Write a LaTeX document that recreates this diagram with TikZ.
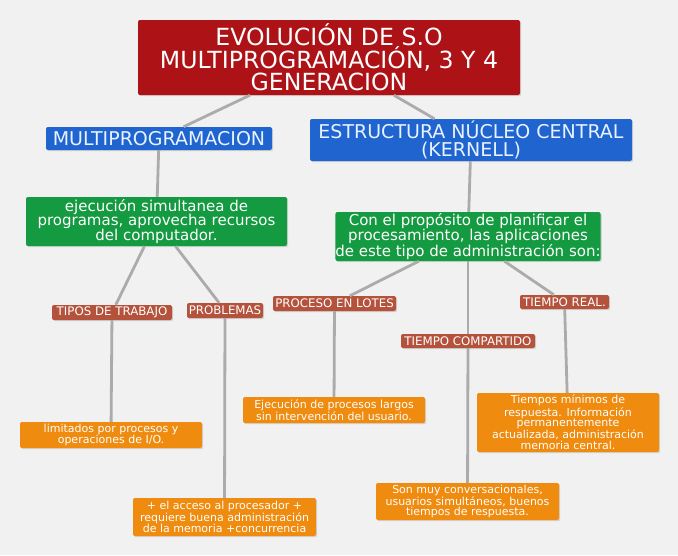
\documentclass[tikz,border=0pt]{standalone}
\usepackage{fontspec}
\setmainfont{DejaVu Sans}
\usetikzlibrary{shadows}
\definecolor{fondo}{HTML}{F1F1F1}
\definecolor{rojo}{HTML}{AD1217}
\definecolor{azul}{HTML}{1F64CF}
\definecolor{verde}{HTML}{149A40}
\definecolor{ladrillo}{HTML}{B4523C}
\definecolor{naranja}{HTML}{EF8B0E}
\definecolor{linea}{HTML}{ABABAB}
\definecolor{celeste}{HTML}{E8F3FF}

\begin{document}
\begin{tikzpicture}[x=1pt,y=-1pt,
sombra/.style={drop shadow={opacity=0.25, shadow xshift=1.2pt, shadow yshift=-1.2pt}},
titulo/.style={rectangle, fill=rojo, text=white, align=center, rounded corners=2pt, inner sep=0pt, sombra, font=\fontsize{23.6}{22.5}\selectfont},
tema/.style={rectangle, fill=azul, text=celeste, align=center, rounded corners=2pt, inner sep=0pt, sombra, font=\fontsize{19}{18.3}\selectfont},
idea/.style={rectangle, fill=verde, text=white, align=center, rounded corners=2pt, inner sep=0pt, sombra, font=\fontsize{15}{14.7}\selectfont},
tipo/.style={rectangle, fill=ladrillo, text=white, align=center, rounded corners=2pt, inner sep=0pt, sombra, font=\fontsize{11.8}{12}\selectfont},
detalle/.style={rectangle, fill=naranja, text=white, align=center, rounded corners=2pt, inner sep=0pt, sombra, font=\fontsize{11}{10.8}\selectfont},
rama/.style={draw=linea, line width=2.8pt}]

\fill[fondo] (0,0) rectangle (678,555);
\useasboundingbox (0,0) rectangle (678,555);

\draw (329,57.5) node[titulo, minimum width=382, minimum height=75] (Tit) {EVOLUCIÓN DE S.O\\MULTIPROGRAMACIÓN, 3 Y 4\\GENERACION};
\draw (159,138.5) node[tema, minimum width=226, minimum height=23] (Mul) {MULTIPROGRAMACION};
\draw (471,140) node[tema, minimum width=322, minimum height=42] (Ker) {ESTRUCTURA NÚCLEO CENTRAL\\(KERNELL)};
\draw (156.5,221.5) node[idea, minimum width=261, minimum height=49] (Eje) {ejecución simultanea de\\programas, aprovecha recursos\\del computador.};
\draw (468,236.5) node[idea, minimum width=262, minimum height=49] (Pla) {Con el propósito de planificar el\\procesamiento, las aplicaciones\\de este tipo de administración son:};
\draw (112,312.5) node[tipo, minimum width=120, minimum height=15] (TTr) {TIPOS DE TRABAJO};
\draw (225,310.5) node[tipo, minimum width=76, minimum height=15] (Pro) {PROBLEMAS};
\draw (334.5,303.5) node[tipo, minimum width=123, minimum height=15] (Lot) {PROCESO EN LOTES};
\draw (468,341) node[tipo, minimum width=134, minimum height=14] (TCo) {TIEMPO COMPARTIDO};
\draw (564.5,302) node[tipo, minimum width=89, minimum height=14] (TRe) {TIEMPO REAL.};
\draw (111,435) node[detalle, minimum width=182, minimum height=26] (Lim) {limitados por procesos y\\operaciones de I/O.};
\draw (224.5,517) node[detalle, minimum width=183, minimum height=38] (Acc) {+ el acceso al procesador +\\requiere buena administración\\de la memoria +concurrencia};
\draw (334,410) node[detalle, minimum width=182, minimum height=26] (Lar) {Ejecución de procesos largos\\sin intervención del usuario.};
\draw (568,422.5) node[detalle, minimum width=182, minimum height=59] (Min) {Tiempos mínimos de\\respuesta. Información\\permanentemente\\actualizada, administración\\memoria central.};
\draw (467.5,501.5) node[detalle, minimum width=183, minimum height=37] (Con) {Son muy conversacionales,\\usuarios simultáneos, buenos\\tiempos de respuesta.};

\draw[rama] (Tit)--(Mul);
\draw[rama] (Tit)--(Ker);
\draw[rama] (Mul)--(Eje);
\draw[rama] (Ker)--(Pla);

\draw[rama] (Eje)--(TTr);
\draw[rama] (Eje)--(Pro);
\draw[rama] (TTr)--(Lim);
\draw[rama] (Pro)--(Acc);

\draw[rama] (Pla)--(Lot);
\draw[rama] (Pla)--(TCo);
\draw[rama] (Pla)--(TRe);
\draw[rama] (Lot)--(Lar);
\draw[rama] (TCo)--(Con);
\draw[rama] (TRe)--(Min);

\end{tikzpicture}
\end{document}
